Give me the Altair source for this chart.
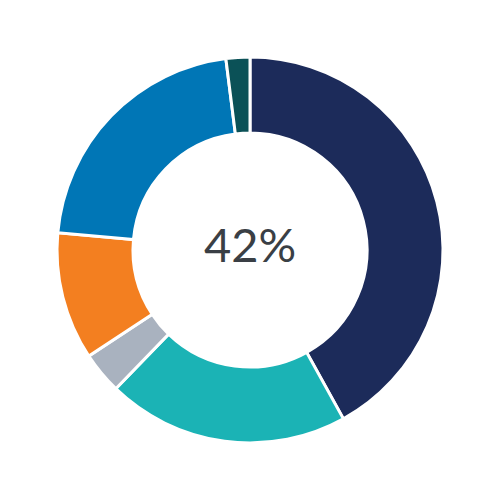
import altair as alt
import pandas as pd

categories = ["A", "B", "C", "D", "E", "F"]
values = [42, 20.3, 3.5, 10.7, 21.6, 2.0]
colors = ["#1c2b5a", "#1bb3b5", "#a9b2bf", "#f37f20", "#0076b6", "#0b5157"]
center_label = "42%"

df = pd.DataFrame({"cat": categories, "val": values, "idx": list(range(len(categories)))})

arc = alt.Chart(df).mark_arc(outerRadius=193, innerRadius=117, stroke="white", strokeWidth=3).encode(
    theta=alt.Theta("val:Q", stack=True),
    color=alt.Color("cat:N", scale=alt.Scale(domain=categories, range=colors), legend=None),
    order=alt.Order("idx:Q"),
)

text = alt.Chart(pd.DataFrame({"t": [center_label]})).mark_text(
    fontSize=47, font="Lato", fontWeight=400, color="#3a3f45", baseline="middle", align="center"
).encode(text="t:N", x=alt.value(242), y=alt.value(240))

chart = alt.layer(arc, text).properties(
    width=484, height=484, autosize=alt.AutoSizeParams(type="none"), padding=0
).configure_view(stroke=None)

chart.save("out.html", embed_options={"renderer": "svg", "actions": False})
